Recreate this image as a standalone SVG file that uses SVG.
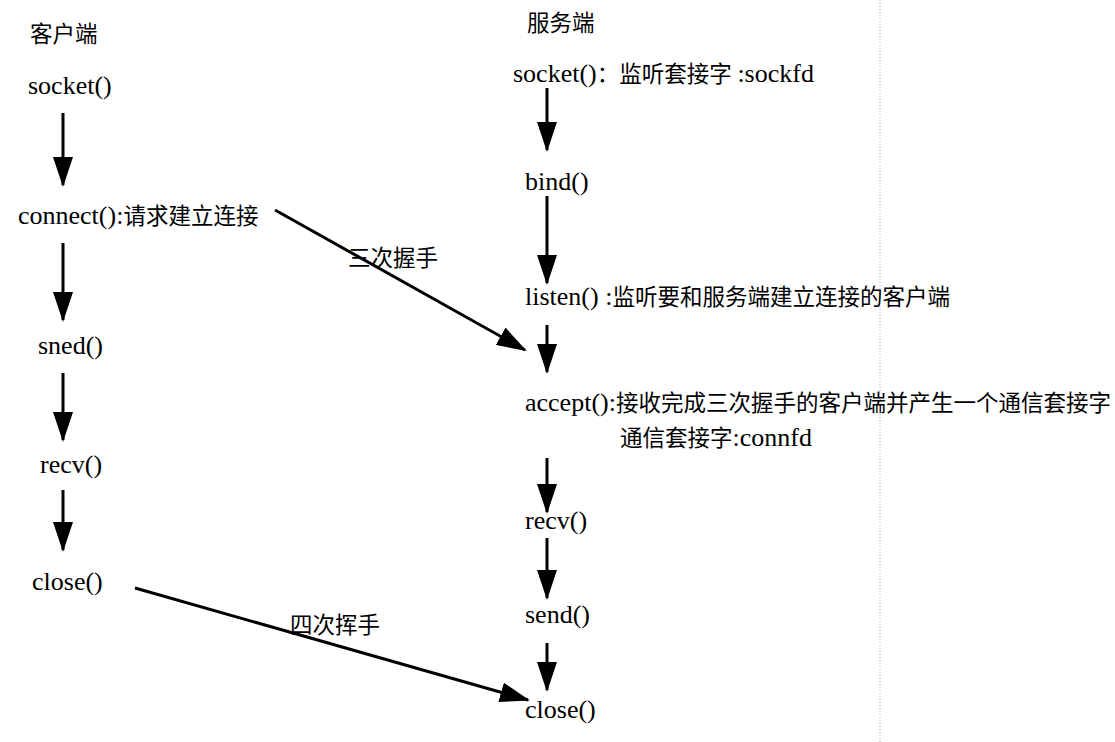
<svg xmlns="http://www.w3.org/2000/svg" width="1115" height="742" viewBox="0 0 1115 742">
<style>
text{font-family:"Liberation Serif","Noto Sans CJK SC",serif;font-size:26px;fill:#000}
.z{font-size:22.5px}
.c{stroke:#000;stroke-width:3;fill:none;marker-end:url(#ah)}
</style>
<defs><marker id="ah" markerUnits="userSpaceOnUse" markerWidth="30" markerHeight="20" refX="28" refY="10" orient="auto" viewBox="0 0 30 20"><path d="M0,0L30,10L0,20Z" fill="#000"/></marker></defs>
<rect width="1115" height="742" fill="#fff"/>
<line x1="880" y1="0" x2="880" y2="742" stroke="#aaa" stroke-dasharray="1,2"/>
<g id="client-title"><text x="30" y="42" class="z">客户端</text></g>
<g id="c-socket"><text x="28" y="94">socket()</text></g>
<g id="c-connect"><text x="18" y="224">connect():<tspan class="z">请求建立连接</tspan></text></g>
<g id="c-sned"><text x="38" y="354">sned()</text></g>
<g id="c-recv"><text x="40" y="473">recv()</text></g>
<g id="c-close"><text x="32" y="590">close()</text></g>
<g id="server-title"><text x="527" y="31" class="z">服务端</text></g>
<g id="s-socket"><text x="513" y="82">socket()<tspan class="z">：监听套接字 </tspan>:sockfd</text></g>
<g id="s-bind"><text x="525" y="190">bind()</text></g>
<g id="s-listen"><text x="525" y="305">listen() :<tspan class="z">监听要和服务端建立连接的客户端</tspan></text></g>
<g id="s-accept"><text x="525" y="411">accept():<tspan class="z">接收完成三次握手的客户端并产生一个通信套接字</tspan></text><text x="620" y="446"><tspan class="z">通信套接字</tspan>:connfd</text></g>
<g id="s-recv"><text x="525" y="529">recv()</text></g>
<g id="s-send"><text x="525" y="623">send()</text></g>
<g id="s-close"><text x="525" y="718">close()</text></g>
<g id="connectors">
<line class="c" x1="63" y1="113" x2="63" y2="185"/>
<line class="c" x1="63" y1="243" x2="63" y2="320"/>
<line class="c" x1="63" y1="373" x2="63" y2="440"/>
<line class="c" x1="63" y1="490" x2="63" y2="550"/>
<line class="c" x1="547" y1="88" x2="547" y2="150"/>
<line class="c" x1="547" y1="196" x2="547" y2="283"/>
<line class="c" x1="547" y1="325" x2="547" y2="372"/>
<line class="c" x1="547" y1="458" x2="547" y2="512"/>
<line class="c" x1="547" y1="538" x2="547" y2="598"/>
<line class="c" x1="547" y1="643" x2="547" y2="690"/>
<line class="c" x1="275" y1="210" x2="525" y2="350"/>
<line class="c" x1="135" y1="588" x2="528" y2="700"/>
<text x="348" y="266" class="z">三次握手</text>
<text x="290" y="633" class="z">四次挥手</text>
</g>
</svg>
